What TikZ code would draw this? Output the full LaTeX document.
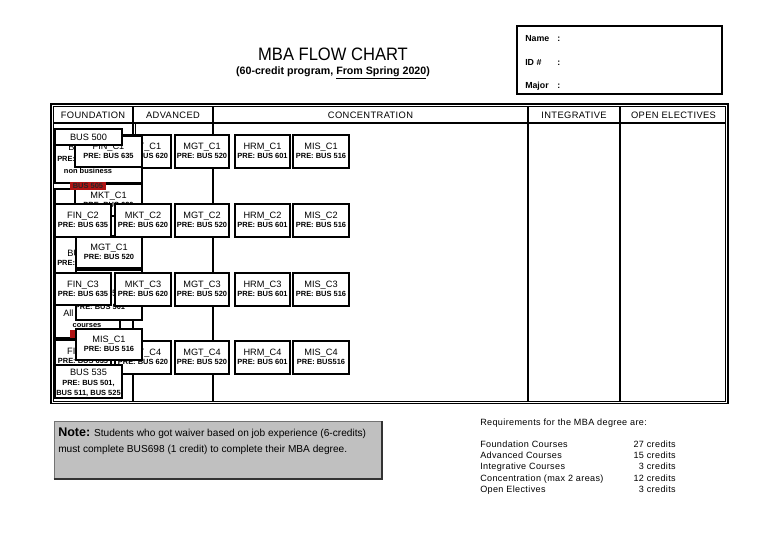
\documentclass[tikz,border=0pt]{standalone}
\usepackage{fontspec}
\setmainfont{Liberation Sans}
\newfontfamily\spacedfont[LetterSpace=4]{Liberation Sans}
\newfontfamily\titlefont[FakeStretch=0.92]{Liberation Sans}
\definecolor{notegray}{RGB}{192,192,192}
\definecolor{busred}{RGB}{175,20,20}
% course box: [style]{name}{x1}{y1}{x2}{y2}{title}{prerequisite}
\newcommand{\crsbox}[8][]{%
  \node[cbox,#1,minimum width={(#5-#3)*0.75pt},minimum height={(#6-#4)*0.75pt}] (#2) at ({(#3+#5)/2},{(#4+#6)/2}) {};
  \node[tfont] (#2-t) at ([yshift=1.4pt]#2.center) {#7};
  \node[pfont] (#2-p) at ([yshift=-5.6pt]#2.center) {#8};
}
% empty box: [style]{name}{x1}{y1}{x2}{y2}
\newcommand{\plainbox}[6][]{%
  \node[cbox,#1,minimum width={(#5-#3)*0.75pt},minimum height={(#6-#4)*0.75pt}] (#2) at ({(#3+#5)/2},{(#4+#6)/2}) {};
}
\begin{document}
\begin{tikzpicture}[x=0.75pt,y=-0.75pt,
  cbox/.style={draw, fill=white, line width=0.8pt, inner sep=0pt},
  thickbox/.style={line width=1.3pt},
  tfont/.style={font=\fontsize{6.9}{8}\selectfont, inner sep=0pt, anchor=base},
  pfont/.style={font=\bfseries\fontsize{5.6}{6.5}\selectfont, inner sep=0pt, anchor=base},
  hdr/.style={font=\spacedfont\fontsize{7}{8}\selectfont, inner sep=0pt, anchor=base},
  req/.style={font=\spacedfont\fontsize{6.8}{8}\selectfont, inner sep=0pt, anchor=base west},
  reqr/.style={font=\spacedfont\fontsize{6.8}{8}\selectfont, inner sep=0pt, anchor=base east},
  namelbl/.style={font=\bfseries\fontsize{6.6}{8}\selectfont, inner sep=0pt, anchor=base west},
  tline/.style={line width=1.1pt},
]
\useasboundingbox (0,0) rectangle (768,543);

% ---------- title ----------
\node[font=\titlefont\fontsize{13.5}{16}\selectfont, inner sep=0pt, anchor=base] (title) at (333,60.5) {MBA FLOW CHART};
\node[font=\bfseries\fontsize{8}{9}\selectfont, inner sep=0pt, anchor=base] (subtitle) at (333,74.5) {(60-credit program, \underline{From Spring 2020})};

% ---------- name box ----------
\node[draw, line width=1.4pt, minimum width={205*0.75pt}, minimum height={68*0.75pt}, inner sep=0pt] (namebox) at (619.5,60) {};
\node[namelbl] (nm) at (525,41.7) {Name};
\node[namelbl] (nmc) at (557,41.7) {:};
\node[namelbl] (id) at (525,65) {ID \#};
\node[namelbl] (idc) at (557,65) {:};
\node[namelbl] (mj) at (525,88) {Major};
\node[namelbl] (mjc) at (557,88) {:};

% ---------- table ----------
\draw[line width=1.3pt] (51,104) rectangle (728,403.5);
\draw[line width=0.5pt] (53.5,106.5) rectangle (725.5,401);
\draw[line width=0.8pt] (53.5,123) -- (725.5,123);
\draw[tline] (133,106.5) -- (133,401);
\draw[line width=0.6pt] (135.5,123) -- (135.5,135);
\draw[tline] (213,106.5) -- (213,401);
\draw[tline] (528,106.5) -- (528,401);
\draw[tline] (620,106.5) -- (620,401);
\node[hdr] (h1) at (93,118.5) {FOUNDATION};
\node[hdr] (h2) at (173,118.5) {ADVANCED};
\node[hdr] (h3) at (370.5,118.5) {CONCENTRATION};
\node[hdr] (h4) at (574,118.5) {INTEGRATIVE};
\node[hdr] (h5) at (673.5,118.5) {OPEN ELECTIVES};

% ---------- concentration ----------
\crsbox[thickbox]{mgt1}{175}{135}{229}{168}{MGT\_C1}{PRE: BUS 520}
\crsbox[thickbox]{mgt2}{175}{204}{229}{237}{MGT\_C2}{PRE: BUS 520}
\crsbox[thickbox]{mgt3}{175}{273}{229}{306}{MGT\_C3}{PRE: BUS 520}
\crsbox[thickbox]{mgt4}{175}{341}{229}{374}{MGT\_C4}{PRE: BUS 520}
\crsbox[thickbox]{hrm1}{235}{135}{290}{168}{HRM\_C1}{PRE: BUS 601}
\crsbox[thickbox]{hrm2}{235}{204}{290}{237}{HRM\_C2}{PRE: BUS 601}
\crsbox[thickbox]{hrm3}{235}{273}{290}{306}{HRM\_C3}{PRE: BUS 601}
\crsbox[thickbox]{hrm4}{235}{341}{290}{374}{HRM\_C4}{PRE: BUS 601}
\crsbox{mis1}{293}{135}{349}{168}{MIS\_C1}{PRE: BUS 516}
\crsbox{mis2}{293}{204}{349}{237}{MIS\_C2}{PRE: BUS 516}
\crsbox{mis3}{293}{273}{349}{306}{MIS\_C3}{PRE: BUS 516}
\crsbox{mis4}{293}{341}{349}{374}{MIS\_C4}{PRE: BUS516}

% ---------- advanced (partly covered) ----------
\crsbox{mkt1}{115}{135}{171}{168}{MKT\_C1}{PRE: BUS 620}
\crsbox{mkt4}{115}{341}{171}{374}{MKT\_C4}{PRE: BUS 620}

% ---------- foundation stack (back to front) ----------
\plainbox{fbd}{55}{189}{122}{240}
\plainbox{fbc}{55}{140}{142}{183}
\node[tfont, anchor=base west] (fbc-t) at (68,150) {BUS 501};
\node[pfont, anchor=base west] (fbc-p) at (57,161) {PRE: BUS 500 for};
\node[pfont] (fbc-n) at (88,173) {non business};
\crsbox{fin1x}{75}{136}{142}{167}{FIN\_C1}{PRE: BUS 635}
\plainbox{bus500}{55}{129}{122}{145}
\node[tfont] (bus500-t) at (88.5,140) {BUS 500};
\crsbox{mkt1x}{75}{184}{142}{216}{MKT\_C1}{PRE: BUS 620}
\node[fill=busred, inner sep=0pt, minimum width={36*0.75pt}, minimum height={8*0.75pt}] (bus505) at (88,185.5) {};
\node[pfont, text=black!85] (bus505-t) at (88,188.3) {BUS 505};
\plainbox{fbe}{55}{236}{142}{290}
\node[tfont, anchor=base west] (fbe-t) at (67,256) {BUS 516};
\node[pfont, anchor=base west] (fbe-p) at (57,265) {PRE: BUS 500};
\plainbox{fbn}{55}{302}{120}{338}
\node[tfont, anchor=base west] (fbn-t) at (63,316) {All non business};
\node[pfont] (fbn-c) at (87,327) {courses};
\node[fill=busred, inner sep=0pt, minimum width={36*0.75pt}, minimum height={8*0.75pt}] (bus505b) at (88,334) {};
\plainbox{fbm}{76}{270}{142}{320}
\node[tfont] (fbm-t) at (109,296) {BUS 525};
\node[pfont] (fbm-p) at (100,309) {PRE: BUS 501};
\crsbox{fin2}{55}{204}{111}{237}{FIN\_C2}{PRE: BUS 635}
\crsbox{mkt2}{115}{204}{171}{237}{MKT\_C2}{PRE: BUS 620}
\crsbox{mgt1x}{76}{237}{142}{268}{MGT\_C1}{PRE: BUS 520}
\crsbox{fin3}{55}{273}{111}{305}{FIN\_C3}{PRE: BUS 635}
\crsbox{mkt3}{115}{273}{171}{306}{MKT\_C3}{PRE: BUS 620}
\crsbox{fin4}{55}{340}{111}{373}{FIN\_C4}{PRE: BUS 635}
\crsbox{mis1x}{76}{329}{142}{360}{MIS\_C1}{PRE: BUS 516}
\plainbox[thickbox]{bus535}{55}{365}{122}{398}
\node[tfont] (bus535-t) at (88.5,375) {BUS 535};
\node[pfont] (bus535-p1) at (88.5,385.5) {PRE: BUS 501,};
\node[pfont] (bus535-p2) at (88.5,395) {BUS 511, BUS 525};

% ---------- note ----------
\node[fill=notegray, draw=black!55, line width=0.6pt, minimum width={328*0.75pt}, minimum height={57*0.75pt}, inner sep=0pt] (note) at (218,450) {};
\draw[line width=1.5pt, black!80] (note.south west) -- (note.south east) -- (note.north east);
\node[font=\fontsize{7.6}{9}\selectfont, inner sep=0pt, anchor=base west] (note1) at (58,436) {{\bfseries\fontsize{9.4}{10}\selectfont Note:} Students who got waiver based on job experience (6-credits)};
\node[font=\fontsize{7.6}{9}\selectfont, inner sep=0pt, anchor=base west] (note2) at (58,452.5) {must complete BUS698 (1 credit) to complete their MBA degree.};

% ---------- requirements ----------
\node[req] (rq) at (480,425) {Requirements for the MBA degree are:};
\node[req] (r1) at (480,447) {Foundation Courses};
\node[req] (r2) at (480,458.3) {Advanced Courses};
\node[req] (r3) at (480,469.6) {Integrative Courses};
\node[req] (r4) at (480,481) {Concentration (max 2 areas)};
\node[req] (r5) at (480,492.3) {Open Electives};
\node[reqr] (c1) at (676,447) {27 credits};
\node[reqr] (c2) at (676,458.3) {15 credits};
\node[reqr] (c3) at (676,469.6) {3 credits};
\node[reqr] (c4) at (676,481) {12 credits};
\node[reqr] (c5) at (676,492.3) {3 credits};
\end{tikzpicture}
\end{document}
